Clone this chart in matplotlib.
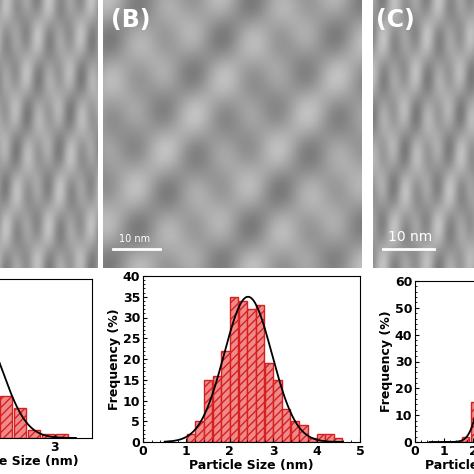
import numpy as np
import matplotlib.pyplot as plt

W = H = 474
fig = plt.figure(figsize=(4.74, 4.74), dpi=100)

def ax_px(x0, y0, x1, y1):
    return fig.add_axes([x0 / W, 1 - y1 / H, (x1 - x0) / W, (y1 - y0) / H])

# --- TEM image panels (texture placeholder) ---
panels = [((0, 0, 98, 268), "", None), ((103, 0, 362, 268), "(B)", "10 nm"), ((373, 0, 474, 268), "(C)", "10 nm")]
yy, xx = np.mgrid[0:200, 0:200]
for i, (box, lab, sb) in enumerate(panels):
    a = ax_px(*box)
    tex = 0.62 + 0.08 * np.sin(xx / 7.0 + i) * np.cos(yy / 9.0) + 0.06 * np.sin((xx + yy) / 13.0 + 2 * i)
    a.imshow(tex, cmap="gray", vmin=0, vmax=1, aspect="auto")
    a.set_xticks([]); a.set_yticks([])
    for s in a.spines.values():
        s.set_visible(False)
    if lab:
        a.text(0.03, 0.97, lab, transform=a.transAxes, color="white", fontsize=17,
               fontweight="bold", va="top", ha="left")
    if sb:
        a.plot([0.04, 0.22] if i == 1 else [0.1, 0.6], [0.07, 0.07], transform=a.transAxes,
               color="white", lw=2)
        a.text(0.06 if i == 1 else 0.15, 0.09, sb, transform=a.transAxes, color="white",
               fontsize=7 if i == 1 else 10, va="bottom")

face = "#f08a8a"
edge = "#d62020"

def gauss(x, A, m, s):
    return A * np.exp(-(x - m) ** 2 / (2 * s ** 2))

# --- Left histogram (A) ---
left_centers = [2.3, 2.5, 2.7, 2.9, 3.1]
left_freq = [10.5, 7.5, 2.0, 1.0, 1.0]
a1 = ax_px(-60, 279, 92, 438)
a1.bar(left_centers, left_freq, width=0.18, color=face, edgecolor=edge, hatch="////", lw=1)
x = np.linspace(0.5, 3.3, 300)
a1.plot(x, gauss(x, 28, 1.9, 0.35), color="black", lw=1.3)
a1.set_xlim(1.36, 3.53); a1.set_ylim(0, 40)
a1.set_xticks([3]); a1.set_yticks([])
a1.set_xlabel("Particle Size (nm)", fontsize=9, fontweight="bold", labelpad=1)

# --- Middle histogram (B) ---
mid_centers = [1.1, 1.3, 1.5, 1.7, 1.9, 2.1, 2.3, 2.5, 2.7, 2.9, 3.1, 3.3, 3.5, 3.7, 3.9, 4.1, 4.3, 4.5]
mid_freq = [2, 5, 15, 16, 22, 35, 34, 32, 33, 19, 15, 8, 5, 4, 1, 2, 2, 1]
a2 = ax_px(143, 276, 360, 442)
a2.bar(mid_centers, mid_freq, width=0.19, color=face, edgecolor=edge, hatch="////", lw=1)
x = np.linspace(0.5, 4.6, 300)
a2.plot(x, gauss(x, 35, 2.42, 0.55), color="black", lw=1.3)
a2.set_xlim(0, 5); a2.set_ylim(0, 40)
a2.set_xticks([0, 1, 2, 3, 4, 5]); a2.set_yticks(range(0, 41, 5))
a2.set_xlabel("Particle Size (nm)", fontsize=9, fontweight="bold", labelpad=1)
a2.set_ylabel("Frequency (%)", fontsize=9, fontweight="bold", labelpad=1)

# --- Right histogram (C) ---
right_centers = [1.75, 2.05]
right_freq = [2, 15]
a3 = ax_px(415, 281, 560, 442)
a3.bar(right_centers, right_freq, width=0.25, color=face, edgecolor=edge, hatch="////", lw=1)
x = np.linspace(0.5, 2.3, 200)
a3.plot(x, gauss(x, 30, 2.6, 0.35), color="black", lw=1.3)
a3.set_xlim(0, 5); a3.set_ylim(0, 60)
a3.set_xticks([0, 1, 2]); a3.set_yticks(range(0, 61, 10))
a3.set_ylabel("Frequency (%)", fontsize=9, fontweight="bold", labelpad=1)
a3.set_xlabel("Particle Size (nm)", fontsize=9, fontweight="bold", labelpad=1)

for a in (a1, a2, a3):
    a.tick_params(labelsize=9, direction="in", length=3, pad=2)
    a.minorticks_on()
    a.tick_params(which="minor", direction="in", length=1.5)
    for t in a.get_xticklabels() + a.get_yticklabels():
        t.set_fontweight("bold")
a1.tick_params(axis="y", which="both", left=False)

fig.savefig("out.png", dpi=100)
